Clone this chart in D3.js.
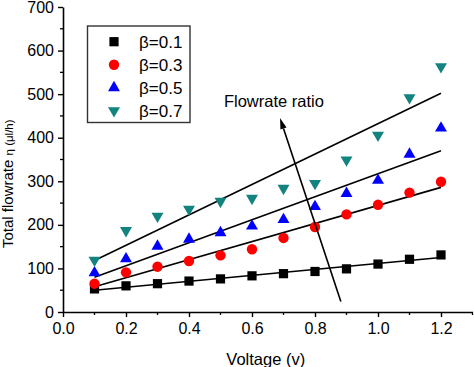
<!DOCTYPE html>
<html>
<head>
    <meta charset="utf-8">
    <script src="https://d3js.org/d3.v7.min.js"></script>
    <style>
        body { margin: 0; background: #fff; }
        svg { display: block; font-family: "Liberation Sans", Arial, sans-serif; }
    </style>
</head>
<body>
<div id="chart"></div>
<script>
    // Data
    const voltage = [0.1, 0.2, 0.3, 0.4, 0.5, 0.6, 0.7, 0.8, 0.9, 1.0, 1.1, 1.2];
    const beta01 = [53, 60, 65, 71, 76, 83, 88, 93, 99, 110, 121, 131];
    const beta03 = [65, 91, 104, 117, 130, 144, 170, 195, 224, 246, 274, 299];
    const beta05 = [90, 122, 151, 167, 182, 197, 212, 242, 272, 302, 362, 422];
    const beta07 = [119, 187, 220, 236, 254, 261, 284, 295, 349, 406, 492, 563];
    const seriesNames = ["β=0.1", "β=0.3", "β=0.5", "β=0.7"];
    // linear fit lines, values at x = 0.1 and x = 1.2
    const fitStart = [50, 58, 80, 118];
    const fitEnd = [125, 286, 370, 502];
    // arrow "Flowrate ratio": tail and head in data units
    const arrowTail = [0.882, 24];
    const arrowHead = [0.689, 445];
    const xTicks = [0, 0.2, 0.4, 0.6, 0.8, 1.0, 1.2];
    const yTicks = [0, 100, 200, 300, 400, 500, 600, 700];

    const colors = ["#000000", "#ff0000", "#0000ff", "#12837f"];
    const shapes = ["square", "circle", "up", "down"];
    const allSeries = [beta01, beta03, beta05, beta07];

    const W = 474, H = 367;
    const x = d3.scaleLinear().domain([0, 1.3]).range([63, 472.5]);
    const y = d3.scaleLinear().domain([0, 700]).range([312, 7]);

    const svg = d3.select("#chart").append("svg")
        .attr("width", W).attr("height", H);

    // axes
    const xAxis = svg.append("g")
        .attr("transform", "translate(0,312)")
        .call(d3.axisBottom(x).tickValues(xTicks).tickFormat(d3.format(".1f"))
            .tickSizeInner(5).tickSizeOuter(0).tickPadding(6));
    const yAxis = svg.append("g")
        .attr("transform", "translate(63,0)")
        .call(d3.axisLeft(y).tickValues(yTicks).tickSizeInner(5).tickSizeOuter(0).tickPadding(4));

    [xAxis, yAxis].forEach(g => {
        g.select(".domain").attr("stroke", "#000").attr("stroke-width", 1.6);
        g.selectAll(".tick line").attr("stroke", "#000").attr("stroke-width", 1.4);
        g.selectAll(".tick text").attr("fill", "#000")
            .style("font-size", "16px").style("font-family", "Liberation Sans, Arial, sans-serif");
    });

    // minor ticks
    const xMinor = d3.range(1, 14, 2).map(i => i / 10);
    svg.append("g").selectAll("line").data(xMinor).join("line")
        .attr("x1", d => x(d)).attr("x2", d => x(d))
        .attr("y1", 312).attr("y2", 315)
        .attr("stroke", "#000").attr("stroke-width", 1.3);
    const yMinor = d3.range(50, 700, 100);
    svg.append("g").selectAll("line").data(yMinor).join("line")
        .attr("x1", 60).attr("x2", 63)
        .attr("y1", d => y(d)).attr("y2", d => y(d))
        .attr("stroke", "#000").attr("stroke-width", 1.3);

    // axis titles
    svg.append("text")
        .attr("x", (x(0) + x(1.3)) / 2 - 2).attr("y", 365)
        .attr("text-anchor", "middle")
        .style("font-size", "16.5px")
        .text("Voltage (v)");

    const yt = svg.append("text")
        .attr("transform", "translate(13,248) rotate(-90)")
        .attr("text-anchor", "start")
        .style("font-size", "15px");
    yt.append("tspan").text("Total flowrate ");
    yt.append("tspan").style("font-size", "11.5px").text("η (μl/h)");

    // fit lines
    svg.append("g").selectAll("line").data(fitStart).join("line")
        .attr("x1", x(0.1)).attr("y1", d => y(d))
        .attr("x2", x(1.2)).attr("y2", (d, i) => y(fitEnd[i]))
        .attr("stroke", "#000").attr("stroke-width", 1.6);

    // markers
    function markerPath(shape) {
        if (shape === "square") return d3.symbol(d3.symbolSquare, 85)();
        if (shape === "circle") return d3.symbol(d3.symbolCircle, 85)();
        return d3.symbol(d3.symbolTriangle, 62)();
    }
    function markerTransform(shape, px, py) {
        if (shape === "down") return `translate(${px},${py}) rotate(180)`;
        return `translate(${px},${py})`;
    }

    allSeries.forEach((vals, si) => {
        svg.append("g").selectAll("path").data(vals).join("path")
            .attr("d", markerPath(shapes[si]))
            .attr("transform", (d, i) => markerTransform(shapes[si], x(voltage[i]), y(d)))
            .attr("fill", colors[si]);
    });

    // arrow
    const ax1 = x(arrowTail[0]), ay1 = y(arrowTail[1]);
    const ax2 = x(arrowHead[0]), ay2 = y(arrowHead[1]);
    const ang = Math.atan2(ay2 - ay1, ax2 - ax1);
    const headLen = 11, headW = 3.2;
    const bx = ax2 - headLen * Math.cos(ang), by = ay2 - headLen * Math.sin(ang);
    svg.append("line")
        .attr("x1", ax1).attr("y1", ay1).attr("x2", bx).attr("y2", by)
        .attr("stroke", "#000").attr("stroke-width", 1.6);
    svg.append("path")
        .attr("d", `M${ax2},${ay2} L${bx + headW * Math.sin(ang)},${by - headW * Math.cos(ang)} L${bx - headW * Math.sin(ang)},${by + headW * Math.cos(ang)} Z`)
        .attr("fill", "#000");

    svg.append("text")
        .attr("x", x(0.511)).attr("y", y(470))
        .style("font-size", "16.5px")
        .text("Flowrate ratio");

    // legend
    const legend = svg.append("g");
    legend.append("rect")
        .attr("x", 87.5).attr("y", 26).attr("width", 102.5).attr("height", 96.5)
        .attr("fill", "#fff").attr("stroke", "#333").attr("stroke-width", 1.4);
    seriesNames.forEach((name, i) => {
        const ly = 41.7 + i * 23;
        legend.append("path")
            .attr("d", markerPath(shapes[i]))
            .attr("transform", markerTransform(shapes[i], 114, ly))
            .attr("fill", colors[i]);
        legend.append("text")
            .attr("x", 139).attr("y", ly + 6)
            .style("font-size", "17px")
            .text(name);
    });
</script>
</body>
</html>
